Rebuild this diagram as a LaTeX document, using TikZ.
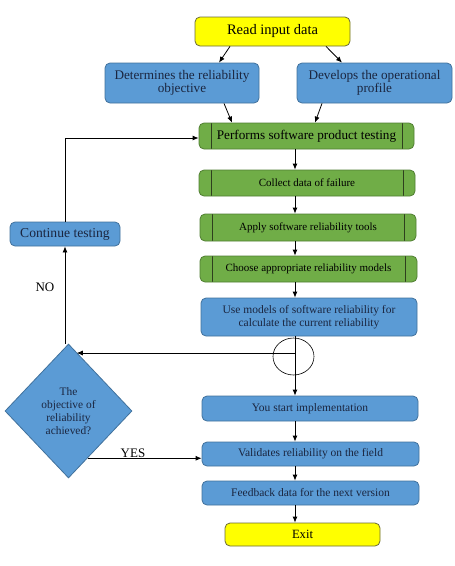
\documentclass[tikz,border=0pt]{standalone}
\usepackage{fontspec}
\setmainfont{Liberation Serif}
\usetikzlibrary{shapes.geometric,arrows.meta,calc}
\definecolor{yfill}{HTML}{FFFF00}
\definecolor{ydraw}{HTML}{6B6B3A}
\definecolor{bfill}{HTML}{5B9BD5}
\definecolor{bdraw}{HTML}{41719C}
\definecolor{gfill}{HTML}{70AD47}
\definecolor{gdraw}{HTML}{507E32}
\definecolor{gline}{HTML}{2E3F1E}
\definecolor{btext}{HTML}{1B2640}
\tikzset{
  px/.style={x=1pt,y=-1pt},
  base/.style={rectangle,rounded corners=5pt,line width=0.8pt,inner sep=0pt,align=center},
  yellowbox/.style={base,fill=yfill,draw=ydraw,text=black},
  bluebox/.style={base,fill=bfill,draw=bdraw,text=btext},
  greenbox/.style={base,fill=gfill,draw=gdraw,text=black,
    path picture={
      \draw[gline,line width=0.8pt] ([xshift=12pt]path picture bounding box.north west) -- ([xshift=12pt]path picture bounding box.south west);
      \draw[gline,line width=0.8pt] ([xshift=-12pt]path picture bounding box.north east) -- ([xshift=-12pt]path picture bounding box.south east);
    }},
  decision/.style={diamond,fill=bfill,draw=bdraw,line width=0.8pt,inner sep=0pt,text=btext,align=center,minimum width=127pt,minimum height=134pt},
  junction/.style={ellipse,draw=black,line width=0.6pt,minimum width=41pt,minimum height=37pt,inner sep=0pt},
  arr/.style={line width=0.8pt,draw=black,-{Latex[length=6pt,width=5pt]}},
  lbl/.style={inner sep=0pt,text=black,font=\fontsize{13}{15}\selectfont},
  fbig/.style={font=\fontsize{14.5}{16}\selectfont},
  fmid/.style={font=\fontsize{13.2}{13.5}\selectfont},
  fsmall/.style={font=\fontsize{11}{13}\selectfont},
  fblue/.style={font=\fontsize{11.5}{13.5}\selectfont},
}
\begin{document}
\begin{tikzpicture}[px]
\useasboundingbox (0,0) rectangle (455,566);
\node[yellowbox,fbig,minimum width=155pt,minimum height=29pt] (read) at (272.5,31.5) {Read input data};
\node[bluebox,fmid,minimum width=154pt,minimum height=40pt] (det) at (182,83) {Determines the reliability\\objective};
\node[bluebox,fmid,minimum width=155pt,minimum height=40pt] (dev) at (374.5,83) {Develops the operational\\profile};
\node[greenbox,fmid,minimum width=215pt,minimum height=26pt] (perf) at (306.5,136) {Performs software product testing};
\node[greenbox,fsmall,minimum width=216pt,minimum height=26pt] (coll) at (307,183) {Collect data of failure};
\node[greenbox,fsmall,minimum width=216pt,minimum height=27pt] (apply) at (308,227.5) {Apply software reliability tools};
\node[greenbox,fsmall,minimum width=217pt,minimum height=26pt] (choose) at (308.5,269) {Choose appropriate reliability models};
\node[bluebox,fblue,minimum width=216pt,minimum height=38pt] (use) at (309,317) {Use models of software reliability for\\calculate the current reliability};
\node[junction] (junc) at (293.5,356.5) {};
\node[bluebox,fblue,minimum width=216pt,minimum height=25pt] (start) at (310,408.5) {You start implementation};
\node[bluebox,fblue,minimum width=217pt,minimum height=24pt] (valid) at (310.5,454) {Validates reliability on the field};
\node[bluebox,fblue,minimum width=217pt,minimum height=24pt] (feed) at (310.5,493) {Feedback data for the next version};
\node[yellowbox,font=\fontsize{12.6}{14}\selectfont,minimum width=155pt,minimum height=23pt] (exit) at (302.5,534.5) {Exit};
\node[bluebox,font=\fontsize{13.6}{15}\selectfont,minimum width=110pt,minimum height=24pt] (cont) at (65,234) {Continue testing};
\node[decision,font=\fontsize{11.4}{13}\selectfont] (dia) at (68.5,411) {The\\objective of\\reliability\\achieved?};
\coordinate (col) at (295,0);
\coordinate (branch) at (295,353);
% connectors
\draw[arr] ([xshift=-42.5pt]read.south) -- ([xshift=37pt]det.north);
\draw[arr] ([xshift=53.5pt]read.south) -- ([xshift=-32.5pt]dev.north);
\draw[arr] ([xshift=42pt]det.south) -- ([xshift=-74.5pt]perf.north);
\draw[arr] ([xshift=-52.5pt]dev.south) -- ([xshift=8.5pt]perf.north);
\draw[arr] (perf.south -| col) -- (coll.north -| col);
\draw[arr] (coll.south -| col) -- (apply.north -| col);
\draw[arr] (apply.south -| col) -- (choose.north -| col);
\draw[arr] (choose.south -| col) -- (use.north -| col);
\draw[arr] (use.south -| col) -- (start.north -| col);
\draw[arr] (start.south -| col) -- (valid.north -| col);
\draw[arr] (valid.south -| col) -- (feed.north -| col);
\draw[arr] (feed.south -| col) -- (exit.north -| col);
\draw[arr] (branch) -- (branch -| dia.82);
\draw[arr] (dia.north -| cont.south) -- (cont.south);
\draw[arr] (cont.north) |- ([yshift=-2pt]perf.west);
\draw[arr] (dia.-68) -- (dia.-68 -| valid.west);
\node[lbl] (no) at (45,287) {NO};
\node[lbl] (yes) at (133,453) {YES};
\end{tikzpicture}
\end{document}
